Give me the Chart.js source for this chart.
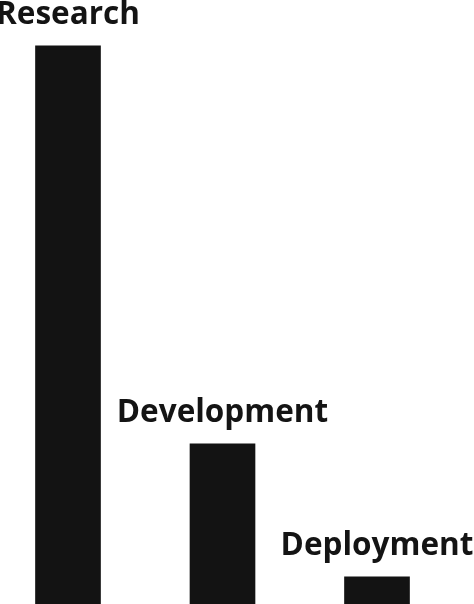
<!DOCTYPE html>
<html>
<head>
<meta charset="utf-8">
<script src="https://cdn.jsdelivr.net/npm/chart.js@4"></script>
<style>
  html, body { margin: 0; padding: 0; background: #fff; }
  #wrap { width: 474px; height: 604px; }
</style>
</head>
<body>
<div id="wrap"><canvas id="myChart"></canvas></div>
<script>
const stages = ['Research', 'Development', 'Deployment']
const effort = [92.4, 26.5, 4.5]

// labels sit centred above each bar
const barLabels = {
  id: 'barLabels',
  afterDatasetsDraw(chart) {
    const ctx = chart.ctx
    const meta = chart.getDatasetMeta(0)
    ctx.save()
    ctx.font = '700 31.5px "Open Sans"'
    ctx.fillStyle = '#141414'
    ctx.textAlign = 'center'
    ctx.textBaseline = 'alphabetic'
    meta.data.forEach((bar, i) => {
      ctx.fillText(stages[i], bar.x, bar.y - 22)
    })
    ctx.restore()
  },
}

let ctx = document.getElementById('myChart').getContext('2d')

let chart = new Chart(ctx, {
  type: 'bar',
  data: {
    labels: stages,
    datasets: [
      {
        data: effort,
        backgroundColor: '#131313',
        barThickness: 65,
        clip: false,
      },
    ],
  },
  options: {
    responsive: true,
    maintainAspectRatio: false,
    animation: false,
    layout: { padding: { left: 68, right: 97, top: 0, bottom: 0 } },
    plugins: {
      legend: { display: false },
      tooltip: { enabled: false },
    },
    scales: {
      x: { display: false, offset: false },
      y: { display: false, min: 0, max: 100 },
    },
  },
  plugins: [barLabels],
})
</script>
</body>
</html>
